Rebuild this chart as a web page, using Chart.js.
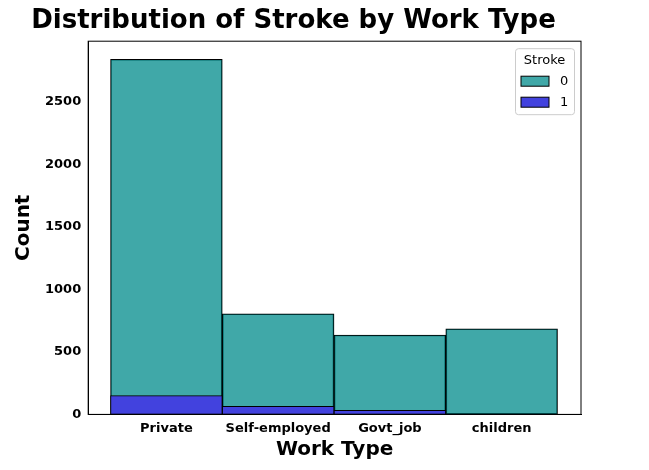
<!DOCTYPE html>
<html>
<head>
<meta charset="utf-8">
<script src="https://cdn.jsdelivr.net/npm/chart.js@4/dist/chart.umd.min.js"></script>
<style>
  body { margin: 0; background: #fff; }
  #wrap { width: 649px; height: 470px; }
</style>
</head>
<body>
<div id="wrap"><canvas id="chart" width="649" height="470"></canvas></div>
<script>
const categories = ["Private", "Self-employed", "Govt_job", "children"];
const stroke0 = [2840, 805, 635, 685];
const stroke1 = [150, 65, 33, 2];
const seriesNames = ["0", "1"];
const colors = ["rgba(0,139,139,0.75)", "rgb(66,66,222)"];

const toPoints = arr => arr.map((v, i) => ({ x: i, y: v }));

// legend box drawn by hand, like seaborn's
const legendBox = {
    id: "legendBox",
    afterDraw(chart) {
        const { ctx, chartArea } = chart;
        const w = 59, h = 66, x = chartArea.right - w - 7, y = chartArea.top + 7;
        ctx.save();
        ctx.fillStyle = "rgba(255,255,255,0.8)";
        ctx.strokeStyle = "#ccc";
        ctx.lineWidth = 1;
        ctx.beginPath();
        ctx.roundRect(x + 0.5, y + 0.5, w, h, 3);
        ctx.fill(); ctx.stroke();
        ctx.fillStyle = "#000";
        ctx.font = "13px 'DejaVu Sans'";
        ctx.textAlign = "center";
        ctx.textBaseline = "middle";
        ctx.fillText("Stroke", x + w / 2, y + 12);
        ctx.textAlign = "left";
        seriesNames.forEach((n, i) => {
            const yy = y + 33 + i * 21;
            ctx.fillStyle = colors[i];
            ctx.fillRect(x + 6, yy - 5, 28, 10);
            ctx.strokeStyle = "#000";
            ctx.strokeRect(x + 6, yy - 5, 28, 10);
            ctx.fillStyle = "#000";
            ctx.fillText(n, x + 45, yy);
        });
        ctx.restore();
    }
};

new Chart(document.getElementById("chart"), {
    type: "bar",
    data: {
        datasets: [
            { label: seriesNames[0], data: toPoints(stroke0), backgroundColor: colors[0], order: 2 },
            { label: seriesNames[1], data: toPoints(stroke1), backgroundColor: colors[1], order: 1 }
        ].map(d => Object.assign(d, {
            borderColor: "#000", borderWidth: 1, grouped: false,
            barPercentage: 1, categoryPercentage: 1, borderSkipped: false
        }))
    },
    options: {
        responsive: false,
        animation: false,
        layout: { padding: { left: 6, right: 68, top: 0, bottom: 8 } },
        plugins: {
            legend: { display: false },
            tooltip: { enabled: false },
            title: {
                display: true, text: "Distribution of Stroke by Work Type",
                color: "#000", font: { family: "DejaVu Sans", size: 26, weight: "bold" },
                padding: { top: 6, bottom: 4 }
            }
        },
        scales: {
            x: {
                type: "linear", min: -0.7, max: 3.71, offset: false,
                grid: { display: false, drawTicks: true, tickLength: 4, tickColor: "#000" },
                border: { color: "#000" },
                afterBuildTicks: s => { s.ticks = categories.map((c, i) => ({ value: i })); },
                ticks: {
                    color: "#000", font: { family: "DejaVu Sans", size: 13, weight: "bold" },
                    callback: v => categories[v], maxRotation: 0, autoSkip: false, padding: 2
                },
                title: { display: true, text: "Work Type", color: "#000",
                    font: { family: "DejaVu Sans", size: 20, weight: "bold" }, padding: 0 }
            },
            y: {
                min: 0, max: 2984,
                grid: { display: false, drawTicks: true, tickLength: 4, tickColor: "#000" },
                border: { color: "#000" },
                afterBuildTicks: s => { s.ticks = [0, 500, 1000, 1500, 2000, 2500].map(v => ({ value: v })); },
                ticks: { color: "#000", font: { family: "DejaVu Sans", size: 13, weight: "bold" },
                    callback: v => String(v) },
                title: { display: true, text: "Count", color: "#000",
                    font: { family: "DejaVu Sans", size: 20, weight: "bold" }, padding: 6 }
            }
        }
    },
    plugins: [legendBox, {
        id: "frame",
        afterDraw(chart) {
            const { ctx, chartArea: a } = chart;
            ctx.save();
            ctx.strokeStyle = "#000"; ctx.lineWidth = 1;
            ctx.strokeRect(a.left, a.top, a.right - a.left, a.bottom - a.top);
            ctx.restore();
        }
    }]
});
</script>
</body>
</html>
